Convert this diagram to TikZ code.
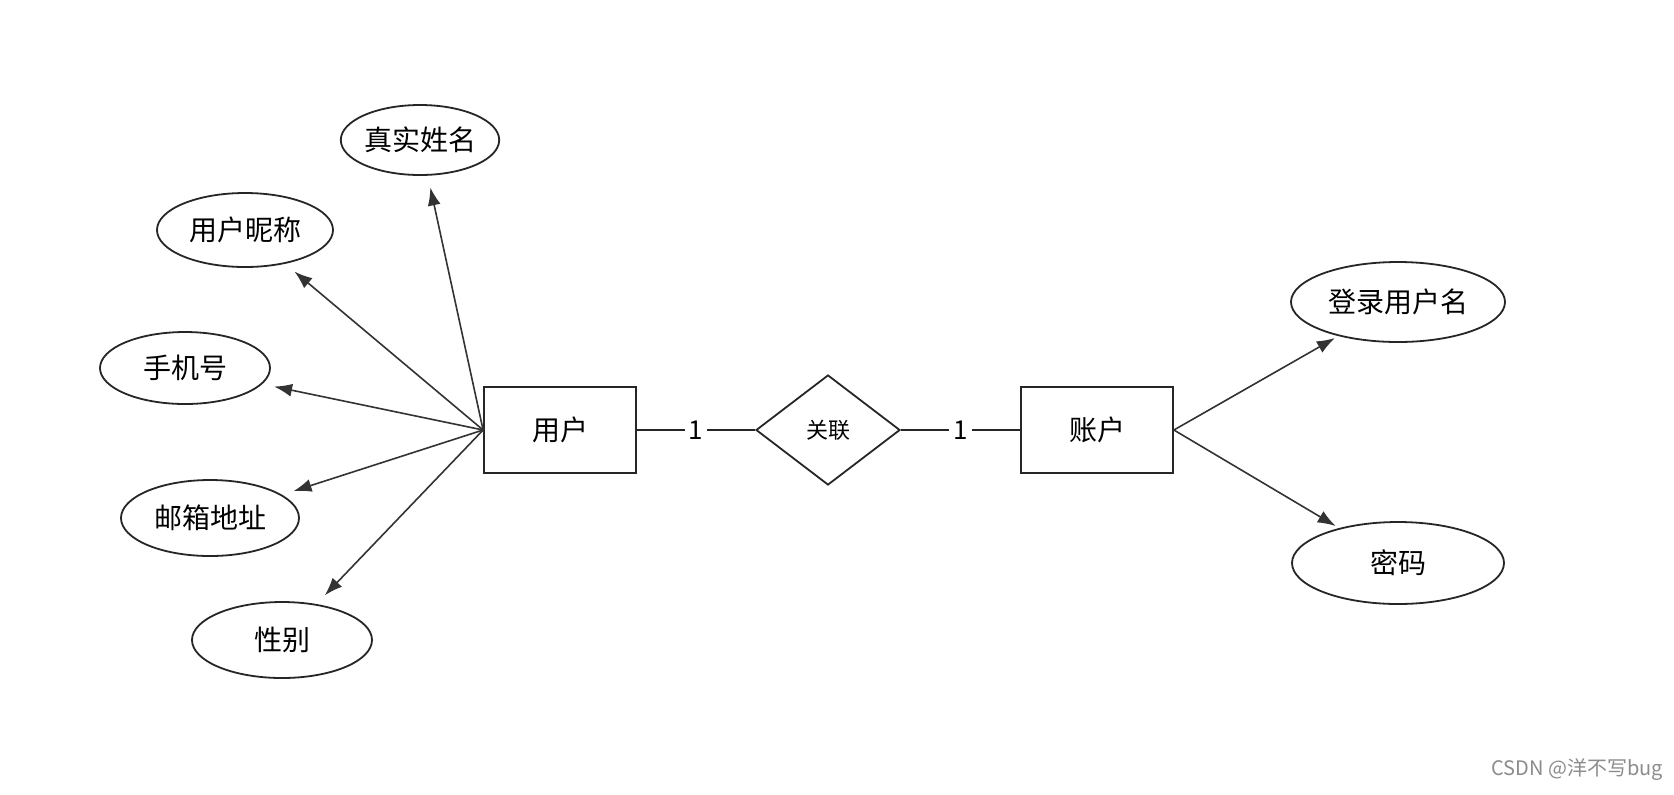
\documentclass[tikz,border=0pt]{standalone}
\usepackage{fontspec}
\setmainfont{Noto Sans CJK SC}
\usetikzlibrary{shapes.geometric,arrows.meta}
\begin{document}
\begin{tikzpicture}[x=0.5pt,y=-0.5pt,
  attr/.style={draw=black!85,ellipse,line width=0.9pt,inner sep=0pt,font=\fontsize{14}{16}\selectfont},
  ent/.style={draw=black!85,rectangle,line width=0.9pt,minimum width=76pt,minimum height=43pt,font=\fontsize{14}{16}\selectfont},
  rel/.style={draw=black!85,diamond,aspect=1.3,line width=0.9pt,minimum width=72pt,minimum height=55pt,inner sep=0pt,font=\fontsize{11}{13}\selectfont},
  arr/.style={-{Latex[length=9pt,width=6.5pt]},line width=0.8pt,draw=black!80,shorten >=6pt},
  ln/.style={line width=0.9pt,draw=black!85}]
\fill[white] (0,0) rectangle (1674,794);
\useasboundingbox (0,0) rectangle (1674,794);
\node[attr,minimum width=77pt,minimum height=35pt] (zs) at (420,140) {真实姓名};
\node[attr,minimum width=88pt,minimum height=37pt] (nc) at (245,230) {用户昵称};
\node[attr,minimum width=85pt,minimum height=36pt] (sj) at (185,368) {手机号};
\node[attr,minimum width=89pt,minimum height=38pt] (yx) at (210,518) {邮箱地址};
\node[attr,minimum width=90pt,minimum height=38pt] (xb) at (282,640) {性别};
\node[attr,minimum width=107pt,minimum height=40pt] (dl) at (1398,302) {登录用户名};
\node[attr,minimum width=106pt,minimum height=41pt] (mm) at (1398,563) {密码};
\node[ent] (yh) at (560,430) {用户};
\node[ent] (zh) at (1097,430) {账户};
\node[rel] (gl) at (828,430) {关联};
\foreach \t in {zs,nc,sj,yx,xb} \draw[arr] (yh.west) -- (\t);
\foreach \t in {dl,mm} \draw[arr,shorten >=2pt] (zh.east) -- (\t);
\draw[ln] (yh.east) -- node[fill=white,inner sep=2pt,font=\fontsize{13}{15}\selectfont]{1} (gl.west);
\draw[ln] (gl.east) -- node[fill=white,inner sep=2pt,font=\fontsize{13}{15}\selectfont]{1} (zh.west);
\node[text=black!45,font=\fontsize{10}{12}\selectfont,anchor=east] (wm) at (1670,770) {CSDN @洋不写bug};
\end{tikzpicture}
\end{document}
